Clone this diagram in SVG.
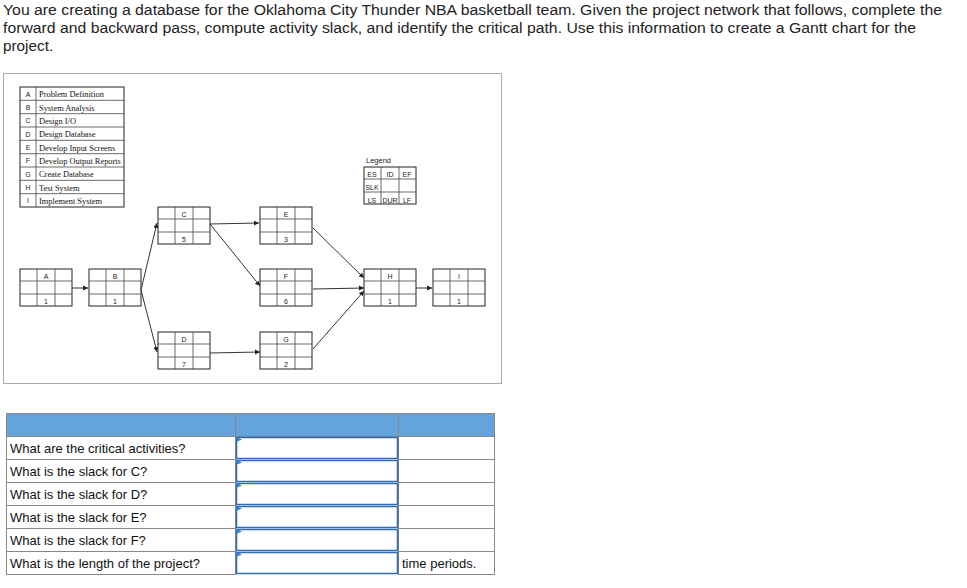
<svg xmlns="http://www.w3.org/2000/svg" width="967" height="588" viewBox="0 0 967 588">
<defs>
<style>
.t{font-family:"Liberation Sans",Arial,sans-serif;fill:#222}
.s{font-family:"Liberation Serif","Times New Roman",serif;font-size:8.4px;fill:#111}
.n{font-family:"Liberation Sans",Arial,sans-serif;font-size:7px;fill:#222;text-anchor:middle}
.b{fill:#fff;stroke:#222;stroke-width:1}
.g{stroke:#444;stroke-width:0.8;fill:none}
.c{stroke:#333;stroke-width:1;fill:none;marker-end:url(#ah)}
.q{font-family:"Liberation Sans",Arial,sans-serif;font-size:13px;fill:#111}
.tc{fill:#fff;stroke:#888;stroke-width:1}
.in{fill:#fff;stroke:#2f6cb5;stroke-width:1.5}
.tri{fill:#2f7ed8}
</style>
<marker id="ah" markerWidth="6" markerHeight="6" refX="5" refY="3" orient="auto" markerUnits="userSpaceOnUse"><path d="M0,0.5 L5,3 L0,5.5z" fill="#222"/></marker>
<g id="nodebox"><rect class="b" x="0" y="0" width="52" height="37"/><path class="g" d="M17,0V37M35,0V37M0,12H52M0,25H52"/></g>
</defs>
<rect width="967" height="588" fill="#fff"/>
<text class="t" font-size="15.3"><tspan x="3" y="15" textLength="939" lengthAdjust="spacingAndGlyphs">You are creating a database for the Oklahoma City Thunder NBA basketball team. Given the project network that follows, complete the</tspan><tspan x="3" y="33" textLength="913" lengthAdjust="spacingAndGlyphs">forward and backward pass, compute activity slack, and identify the critical path. Use this information to create a Gantt chart for the</tspan><tspan x="3" y="51">project.</tspan></text>
<rect x="3.5" y="73.5" width="498" height="310" fill="#fff" stroke="#aaa"/>
<g id="activity-table">
<rect class="b" x="20" y="87" width="104" height="120"/>
<path class="g" d="M36,87V207M20,100.3H124M20,113.7H124M20,127H124M20,140.3H124M20,153.7H124M20,167H124M20,180.3H124M20,193.7H124"/>
<g class="n" font-size="7"><text x="28" y="96.5">A</text><text x="28" y="110">B</text><text x="28" y="123">C</text><text x="28" y="136.5">D</text><text x="28" y="150">E</text><text x="28" y="163">F</text><text x="28" y="176.5">G</text><text x="28" y="190">H</text><text x="28" y="203">I</text></g>
<g class="s"><text x="39" y="97">Problem Definition</text><text x="39" y="110.5">System Analysis</text><text x="39" y="123.5">Design I/O</text><text x="39" y="137">Design Database</text><text x="39" y="150.5">Develop Input Screens</text><text x="39" y="163.5">Develop Output Reports</text><text x="39" y="177">Create Database</text><text x="39" y="190.5">Test System</text><text x="39" y="203.5">Implement  System</text></g>
</g>
<g id="legend">
<text class="t" x="366" y="163" font-size="7.5">Legend</text>
<use href="#nodebox" x="364" y="167"/>
<g class="n" font-size="7"><text x="372" y="177">ES</text><text x="390" y="177">ID</text><text x="407" y="177">EF</text><text x="372" y="190">SLK</text><text x="372" y="203">LS</text><text x="390" y="203">DUR</text><text x="407" y="203">LF</text></g>
</g>
<g id="node-A"><use href="#nodebox" x="20" y="269"/><text class="n" x="46" y="279">A</text><text class="n" x="46" y="304">1</text></g>
<g id="node-B"><use href="#nodebox" x="89" y="269"/><text class="n" x="115" y="279">B</text><text class="n" x="115" y="304">1</text></g>
<g id="node-C"><use href="#nodebox" x="158" y="207"/><text class="n" x="184" y="217">C</text><text class="n" x="184" y="242">5</text></g>
<g id="node-D"><use href="#nodebox" x="158" y="332"/><text class="n" x="184" y="342">D</text><text class="n" x="184" y="367">7</text></g>
<g id="node-E"><use href="#nodebox" x="260" y="207"/><text class="n" x="286" y="217">E</text><text class="n" x="286" y="242">3</text></g>
<g id="node-F"><use href="#nodebox" x="260" y="269"/><text class="n" x="286" y="279">F</text><text class="n" x="286" y="304">6</text></g>
<g id="node-G"><use href="#nodebox" x="260" y="332"/><text class="n" x="286" y="342">G</text><text class="n" x="286" y="367">2</text></g>
<g id="node-H"><use href="#nodebox" x="364" y="269"/><text class="n" x="390" y="279">H</text><text class="n" x="390" y="304">1</text></g>
<g id="node-I"><use href="#nodebox" x="433" y="269"/><text class="n" x="459" y="279">I</text><text class="n" x="459" y="304">1</text></g>
<g id="connectors">
<path class="c" d="M72,288L88,288"/>
<path class="c" d="M141,290L157,223"/>
<path class="c" d="M141,290L157,352"/>
<path class="c" d="M210,224L259,223"/>
<path class="c" d="M210,224L260,286"/>
<path class="c" d="M210,353L260,352"/>
<path class="c" d="M313,228L364,278"/>
<path class="c" d="M313,289L364,288"/>
<path class="c" d="M313,349L364,291"/>
<path class="c" d="M416,288L432,288"/>
</g>
<g id="question-table">
<rect x="6.5" y="413.5" width="488" height="23" fill="#64a3dc" stroke="#888"/>
<path d="M235.5,413.5V436.5M398.5,413.5V436.5" stroke="#888"/>
<g class="tc">
<rect x="6.5" y="436.5" width="229" height="23"/><rect x="398.5" y="436.5" width="96" height="23"/>
<rect x="6.5" y="459.5" width="229" height="23"/><rect x="398.5" y="459.5" width="96" height="23"/>
<rect x="6.5" y="482.5" width="229" height="23"/><rect x="398.5" y="482.5" width="96" height="23"/>
<rect x="6.5" y="505.5" width="229" height="23"/><rect x="398.5" y="505.5" width="96" height="23"/>
<rect x="6.5" y="528.5" width="229" height="23"/><rect x="398.5" y="528.5" width="96" height="23"/>
<rect x="6.5" y="551.5" width="229" height="23"/><rect x="398.5" y="551.5" width="96" height="23"/>
</g>
<g>
<rect class="in" x="236.5" y="437.5" width="161" height="21"/><path class="tri" d="M236,437L242,439.5L236,442z"/>
<rect class="in" x="236.5" y="460.5" width="161" height="21"/><path class="tri" d="M236,460L242,462.5L236,465z"/>
<rect class="in" x="236.5" y="483.5" width="161" height="21"/><path class="tri" d="M236,483L242,485.5L236,488z"/>
<rect class="in" x="236.5" y="506.5" width="161" height="21"/><path class="tri" d="M236,506L242,508.5L236,511z"/>
<rect class="in" x="236.5" y="529.5" width="161" height="21"/><path class="tri" d="M236,529L242,531.5L236,534z"/>
<rect class="in" x="236.5" y="552.5" width="161" height="21"/><path class="tri" d="M236,552L242,554.5L236,557z"/>
</g>
<text class="q" x="10" y="453">What are the critical activities?</text>
<text class="q" x="10" y="476">What is the slack for C?</text>
<text class="q" x="10" y="499">What is the slack for D?</text>
<text class="q" x="10" y="522">What is the slack for E?</text>
<text class="q" x="10" y="545">What is the slack for F?</text>
<text class="q" x="10" y="568">What is the length of the project?</text>
<text class="q" x="402" y="568">time periods.</text>
</g>
</svg>
